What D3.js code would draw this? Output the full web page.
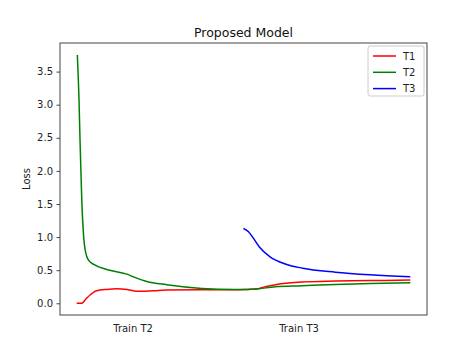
<!DOCTYPE html>
<html><head><meta charset="utf-8">
<script src="https://cdn.jsdelivr.net/npm/d3@7"></script>
<style>body{margin:0;background:#fff}svg{display:block}</style>
</head><body>
<svg id="c" width="474" height="355"></svg>
<script>
const seriesNames = ["T1", "T2", "T3"];
const seriesColors = ["#ff0000", "#008000", "#0000ff"];
const t1X = [0, 3, 5.4, 8, 12, 18, 24, 30, 36, 46, 54, 75, 95.5, 102.5, 107.5, 113, 119, 127, 135, 155, 176, 200];
const t1Y = [0.0, 0.0, 0.06, 0.125, 0.19, 0.21, 0.22, 0.21, 0.18, 0.19, 0.2, 0.205, 0.205, 0.21, 0.215, 0.25, 0.28, 0.305, 0.32, 0.335, 0.343, 0.35];
const t2X = [0.4, 1.4, 2, 3, 4.2, 5, 6, 7.5, 10, 18, 30, 34, 42, 54, 75, 95, 102.5, 107.5, 119, 135, 155, 176, 200];
const t2Y = [3.75, 3.07, 2.47, 1.6, 1.0, 0.82, 0.71, 0.64, 0.59, 0.51, 0.44, 0.40, 0.33, 0.28, 0.225, 0.21, 0.21, 0.215, 0.25, 0.265, 0.285, 0.298, 0.31];
const t3X = [100, 103, 106, 109.5, 115.5, 125.4, 135.4, 155, 176, 200];
const t3Y = [1.13, 1.08, 0.98, 0.85, 0.71, 0.59, 0.53, 0.47, 0.43, 0.40];
const yTicks = [0.0, 0.5, 1.0, 1.5, 2.0, 2.5, 3.0, 3.5];
const xTickPos = [33.5, 133];
const xTickLabels = ["Train T2", "Train T3"];

const svg = d3.select("#c");
const L = 60, R = 427, T = 43, B = 315;
const x = d3.scaleLinear().domain([-10, 210]).range([L, R]);
const y = d3.scaleLinear().domain([-0.177, 3.932]).range([B, T]);
const font = "DejaVu Sans, sans-serif";

const series = [
  t1X.map((v, i) => [v, t1Y[i]]),
  t2X.map((v, i) => [v, t2Y[i]]),
  t3X.map((v, i) => [v, t3Y[i]])
];
const line = d3.line().x(d => x(d[0])).y(d => y(d[1])).curve(d3.curveMonotoneX);
series.forEach((s, i) => {
  svg.append("path").attr("d", line(s)).attr("fill", "none")
    .attr("stroke", seriesColors[i]).attr("stroke-width", 1.5);
});

// frame
svg.append("rect").attr("x", L).attr("y", T).attr("width", R - L).attr("height", B - T)
  .attr("fill", "none").attr("stroke", "#444").attr("stroke-width", 1);

// y axis
const ya = svg.append("g").attr("transform", `translate(${L},0)`)
  .call(d3.axisLeft(y).tickValues(yTicks).tickFormat(d3.format(".1f")).tickSize(3.5).tickPadding(3.5));
ya.select(".domain").remove();
ya.selectAll("text").attr("font-family", font).attr("font-size", 10).attr("fill", "#222");
ya.selectAll("line").attr("stroke", "#444");

// x axis
const xa = svg.append("g").attr("transform", `translate(0,${B})`)
  .call(d3.axisBottom(x).tickValues(xTickPos).tickFormat((d, i) => xTickLabels[i]).tickSize(0).tickPadding(10));
xa.select(".domain").remove();
xa.selectAll("text").attr("font-family", font).attr("font-size", 10).attr("fill", "#222");

// labels
svg.append("text").attr("x", (L + R) / 2).attr("y", 37).attr("text-anchor", "middle")
  .attr("font-family", font).attr("font-size", 12.5).attr("fill", "#111").text("Proposed Model");
svg.append("text").attr("transform", `translate(30,${(T + B) / 2}) rotate(-90)`).attr("text-anchor", "middle")
  .attr("font-family", font).attr("font-size", 10).attr("fill", "#222").text("Loss");

// legend
const lg = svg.append("g");
lg.append("rect").attr("x", 368).attr("y", 46).attr("width", 56).attr("height", 50).attr("rx", 2)
  .attr("fill", "#fff").attr("fill-opacity", 0.8).attr("stroke", "#ccc");
seriesNames.forEach((n, i) => {
  const yy = 56 + i * 16.3;
  lg.append("line").attr("x1", 373).attr("x2", 396).attr("y1", yy).attr("y2", yy)
    .attr("stroke", seriesColors[i]).attr("stroke-width", 1.5);
  lg.append("text").attr("x", 403).attr("y", yy + 3.5).attr("font-family", font).attr("font-size", 10)
    .attr("fill", "#222").text(n);
});
</script>
</body></html>
